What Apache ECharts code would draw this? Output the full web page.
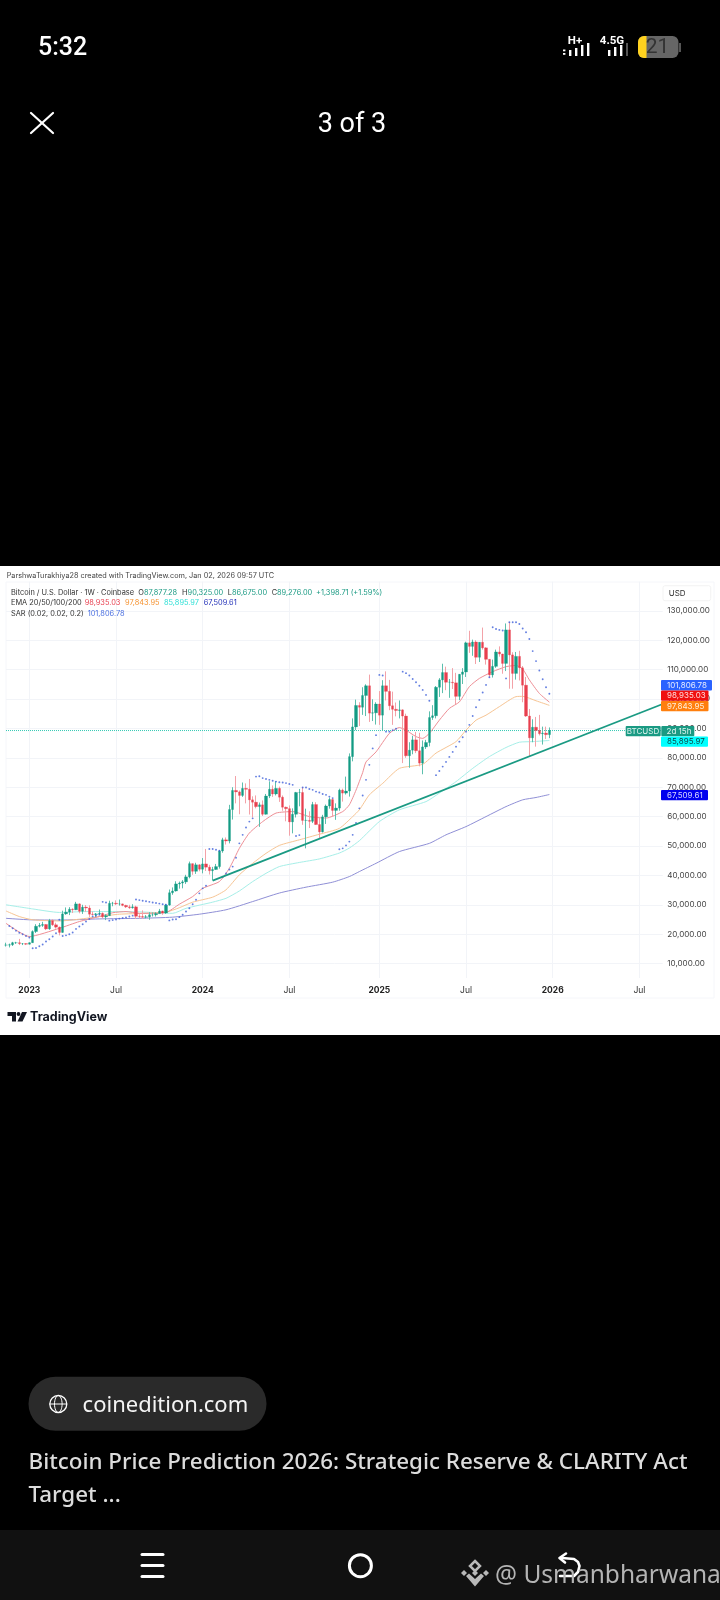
<!DOCTYPE html>
<html><head><meta charset="utf-8">
<style>html,body{margin:0;padding:0;background:#000}#c{width:720px;height:1600px}</style>
<script src="https://cdn.jsdelivr.net/npm/echarts@6/dist/echarts.min.js"></script>
</head><body><div id="c"></div>
<script>
// All prices in thousands of USD. Week numbers count from the week of 2023-01-02 = 0.
const firstWeek = -7;
const lastWeek = 190;
const tickLabels = {'2023-01-02':'2023','2023-07-03':'Jul','2024-01-01':'2024','2024-07-01':'Jul','2025-01-06':'2025','2025-07-07':'Jul','2026-01-05':'2026','2026-07-06':'Jul'};
const priceTicks = [10,20,30,40,50,60,70,80,90,100,110,120,130];

const opens = [16.3,16.3,16.4,17.1,17.1,16.8,16.8,16.6,17.1,20.9,22.7,23.0,23.3,21.8,24.6,23.2,22.4,20.6,26.9,27.5,28.5,28.3,30.3,27.8,29.2,28.9,26.8,26.7,26.9,27.1,25.9,26.3,30.5,30.5,30.3,30.3,29.8,29.3,29.0,29.3,26.1,26.0,25.8,25.9,26.6,26.6,27.0,27.9,27.2,29.9,34.1,34.7,37.1,37.4,37.8,39.5,44.0,41.4,43.6,42.1,43.9,42.8,41.6,42.0,43.0,48.3,52.1,51.7,62.4,68.9,68.4,67.2,69.6,69.3,65.7,64.9,63.4,64.0,60.8,67.0,69.3,67.7,69.6,66.6,63.2,62.7,58.2,60.8,68.2,68.2,58.7,58.7,58.4,64.1,57.3,54.8,59.9,63.6,65.8,62.1,62.9,69.0,68.0,68.7,80.4,90.5,97.8,97.2,101.2,104.5,95.2,95.3,98.3,94.5,104.5,102.6,97.7,96.5,96.1,96.3,94.2,80.7,82.6,86.1,82.4,78.2,83.7,85.2,93.7,94.3,104.0,106.5,109.0,105.7,105.7,105.5,100.9,108.4,109.2,119.1,117.9,119.4,114.2,119.3,117.4,113.5,108.2,111.1,116.0,115.3,112.1,123.5,115.0,108.7,114.5,110.6,104.7,94.2,86.8,90.4,89.3,88.2,88.4,87.88];
const closes = [16.3,16.4,17.1,17.1,16.8,16.8,16.6,17.1,20.9,22.7,23.0,23.3,21.8,24.6,23.2,22.4,20.6,26.9,27.5,28.5,28.3,30.3,27.8,29.2,28.9,26.8,26.7,26.9,27.1,25.9,26.3,30.5,30.5,30.3,30.3,29.8,29.3,29.0,29.3,26.1,26.0,25.8,25.9,26.6,26.6,27.0,27.9,27.2,29.9,34.1,34.7,37.1,37.4,37.8,39.5,44.0,41.4,43.6,42.1,43.9,42.8,41.6,42.0,43.0,48.3,52.1,51.7,62.4,68.9,68.4,67.2,69.6,69.3,65.7,64.9,63.4,64.0,60.8,67.0,69.3,67.7,69.6,66.6,63.2,62.7,58.2,60.8,68.2,68.2,58.7,58.7,58.4,64.1,57.3,54.8,59.9,63.6,65.8,62.1,62.9,69.0,68.0,68.7,80.4,90.5,97.8,97.2,101.2,104.5,95.2,95.3,98.3,94.5,104.5,102.6,97.7,96.5,96.1,96.3,94.2,80.7,82.6,86.1,82.4,78.2,83.7,85.2,93.7,94.3,104.0,106.5,109.0,105.7,105.7,105.5,100.9,108.4,109.2,119.1,117.9,119.4,114.2,119.3,117.4,113.5,108.2,111.1,116.0,115.3,112.1,123.5,115.0,108.7,114.5,110.6,104.7,94.2,86.8,90.4,89.3,88.2,88.4,87.88,89.276];
const highs = [17.1,16.8,17.4,17.4,18.4,17.0,16.9,17.2,21.3,23.4,23.8,24.2,23.4,25.2,25.1,23.9,22.6,28.0,29.1,29.2,28.8,31.0,30.5,30.0,29.9,29.8,27.7,27.2,28.4,27.4,26.8,31.4,31.0,31.5,31.8,30.4,30.0,30.0,30.2,29.7,26.8,28.1,26.5,27.5,27.4,27.5,28.6,28.0,30.3,35.2,35.9,38.0,37.9,38.4,40.2,44.7,44.0,44.3,43.8,45.9,49.0,43.6,42.9,43.9,48.6,52.8,52.9,64.0,70.0,73.8,68.9,71.6,71.3,72.8,66.9,67.2,64.8,65.5,67.7,72.0,70.6,72.0,70.2,67.2,63.4,63.8,62.8,68.4,69.4,70.0,62.7,61.8,65.0,64.9,59.8,60.6,64.1,66.5,66.1,64.5,69.5,69.5,73.6,81.5,93.4,99.8,98.9,104.0,105.0,108.3,99.9,98.9,102.7,106.4,109.4,106.5,102.5,98.8,99.5,96.5,95.0,85.3,87.5,88.8,88.5,85.9,86.1,95.8,97.9,104.4,107.1,112.0,111.0,106.8,110.5,108.9,108.5,110.5,119.5,123.2,120.2,120.0,119.3,124.3,117.6,113.5,113.4,116.8,117.9,115.4,125.7,126.2,115.9,116.0,116.4,111.2,107.5,96.6,93.1,93.9,94.6,90.6,90.6,90.325];
const lows = [15.8,15.5,16.0,16.7,16.3,16.3,16.3,16.5,17.1,20.4,22.3,22.5,21.4,21.5,22.8,21.9,19.6,20.5,26.6,26.5,27.2,28.2,27.1,26.9,27.6,25.8,26.4,25.9,26.6,25.4,24.8,26.2,29.5,29.9,29.7,29.5,28.9,28.6,28.7,25.2,25.4,25.3,25.4,24.9,26.0,26.0,27.1,26.6,26.9,29.7,33.4,34.5,35.5,35.6,37.1,39.0,40.2,40.5,41.4,40.7,41.5,40.3,38.3,41.9,42.3,47.7,50.5,50.9,59.0,64.5,60.8,66.7,64.5,60.7,59.7,62.8,56.5,60.2,60.7,66.3,66.7,67.2,65.0,62.0,58.4,53.5,54.3,59.7,63.5,57.2,49.2,56.1,57.8,57.2,52.5,54.6,57.5,62.7,59.9,58.9,62.0,65.1,67.5,66.8,78.8,89.4,90.8,94.6,94.2,92.2,92.5,91.3,91.2,89.3,99.5,96.2,91.2,94.1,93.4,78.2,80.0,76.6,81.2,81.6,77.1,74.4,83.0,83.9,92.9,93.4,100.7,102.0,103.0,100.4,103.4,98.2,99.6,105.1,107.5,115.7,114.7,111.9,112.6,116.8,111.7,107.3,107.3,110.6,114.4,108.6,109.5,103.5,103.5,106.6,106.3,98.9,93.9,80.6,85.3,83.8,87.6,84.5,86.4,86.675];

const ema20Weeks = [-7,0,9,15,21,25,29,33,41,45,49,52,57,60,63,66,70,74,79,84,89,94,96,98,100,101,104,108,111,113,116,118,120,123,126,129,132,135,139,143,146,148,150,153,156];
const ema20Values = [23.7,19.2,22,24.3,26,27.3,27.7,27.1,27.4,30.2,32.8,35.6,37.9,42.4,49.2,54.4,58.3,61.2,61.7,60,59.5,61.7,64,69,75,78.6,82,88.3,90.3,89.4,87.2,86.6,88.3,92.8,96.8,99,104.2,107,109.3,111,111.4,110.2,106.5,101.9,98.94];
const ema50Weeks = [-7,-3,1,9,15,21,27,35,41,45,49,55,59,63,67,71,75,81,87,93,97,99,102,106,111,118,122,128,131,134,137,141,146,148,152,156];
const ema50Values = [27.9,26,24.9,24.5,25.1,26,26.8,27.1,27.5,29,30.9,32.6,35.1,40.2,44.1,47.5,50.2,52.1,54,56,60,62.3,67.4,71.3,76.4,77.8,81.6,85.5,89.4,92.8,94.5,97.4,100.8,100.9,99.4,97.84];
const ema100Weeks = [-7,1,9,17,25,33,43,47,55,59,63,67,71,75,81,87,93,96,99,105,111,119,123,128,133,138,143,147,151,156];
const ema100Values = [30,28.6,27.4,27.7,27.7,27.6,27.1,28.8,30.9,32.2,34.7,37.9,40.7,43,44.4,45.6,47.6,49.3,51.8,58.3,62.3,65.1,68,71.9,76.4,80.4,83.5,85.3,85.5,85.9];
const ema200Weeks = [-7,0,9,21,33,43,51,59,67,75,83,91,96,99,104,111,120,125,131,137,143,148,152,156];
const ema200Values = [25.4,24.9,24.8,25.2,25.4,25.8,26.8,28.3,31.1,34,36,37.7,39.6,41.3,44.1,48.1,50.9,53.8,56.6,60,63.4,65.7,66.5,67.51];

const sarWeeks = [-6,-5,-4,-3,-2,-1,0,1,2,3,4,5,6,7,8,9,10,11,12,13,14,15,16,17,18,19,20,21,22,23,24,25,26,27,28,29,30,31,32,33,34,35,36,37,38,39,40,41,42,43,44,45,46,47,48,49,50,51,52,53,54,55,56,57,58,59,60,61,62,63,64,65,66,67,68,69,70,71,72,73,74,75,76,77,78,79,80,81,82,83,84,85,86,87,88,89,90,91,93,94,95,96,97,98,99,100,101,102,103,104,105,106,107,108,109,110,112,113,114,115,116,117,118,119,120,122,123,124,125,126,127,128,129,130,131,132,133,134,135,136,137,138,139,140,141,142,143,144,145,146,147,148,149,150,151,152,153,154,155,156];
const sarValues = [22.8,22,21.2,20.5,20,19.4,18.9,15.2,15.3,15.9,16.5,17.5,18.3,19.2,20.3,24.9,19.4,19.6,20,20.6,21.8,22.6,23.4,24.3,25.2,26,26.3,26.6,31,30.8,24.6,24.8,25,25.3,25.5,25.7,26,26.3,31.8,31.6,31.4,31.2,31,30.8,30.6,30.4,30.2,30,24.7,25,25.1,25.8,26.6,27.7,28.8,30.2,31.7,33.9,35.6,36.5,49,49,48.7,48.4,39.5,40.7,42,43,46,50.9,53.8,56.3,58.3,59.4,73.6,73.7,73.1,72.8,72.5,72.2,71.9,71.7,71.6,71.4,71.1,70.8,53.4,53.7,69.9,69.9,69.4,69.1,68.5,68.2,67.7,67.4,66.8,66.3,48.9,49.2,50.2,51.5,53.8,57.8,62.8,67.2,72.5,77.6,83.2,87.7,108.2,108,88.9,88.9,89.4,89.9,109.3,108.8,108,106.8,105.7,104.5,103.1,101.4,99.4,74.1,75.5,77,78.6,80.3,82,83.8,85.5,87,88.9,91.2,94.2,97.2,99.7,102.2,104.8,107.4,124.4,123.8,123.5,123.3,107,126.1,126.1,126.1,125.5,124,122.7,120.4,116.3,112.9,109.7,106.7,104,101.81];

const trendWeeks = [55,190];
const trendValues = [38.2,98.3];
const lastClose = 89.276;

// ---- build
const categories = [];
for (let w = firstWeek; w <= lastWeek; w++) {
  categories.push(new Date(Date.UTC(2023,0,2) + w*7*864e5).toISOString().slice(0,10));
}
const pos = w => w - firstWeek;
const pairs = (ws, vs) => ws.map((w,i) => [pos(w), vs[i]]);
const UI = 'Inter, "Noto Sans", sans-serif';
const CAND_FULL = opens.map((o,i)=>[o,closes[i],lows[i],highs[i]]);
const CAND_BODY = opens.map((o,i)=>[o,closes[i],Math.min(o,closes[i]),Math.max(o,closes[i])]);

const T = (x,y,text,size,fill,o={}) => ({type:'text',z:o.z||50,style:{x,y,text,fontSize:size,fontFamily:o.family||UI,fontWeight:o.weight||400,fill,align:o.align||'left',verticalAlign:'middle'}});
const R = (x,y,w,h,fill,o={}) => ({type:'rect',z:o.z||40,shape:{x,y,width:w,height:h,r:o.r||0},style:{fill,stroke:o.stroke||null,lineWidth:o.lw||0}});
const L = (pts,stroke,lw,z=60) => ({type:'polyline',z,shape:{points:pts},style:{stroke,lineWidth:lw,fill:null,lineCap:'round',lineJoin:'round'}});
const C = (cx,cy,r,stroke,lw,z=60) => ({type:'circle',z,shape:{cx,cy,r},style:{stroke,lineWidth:lw,fill:null}});
const RK = 'Roboto, sans-serif';
const NS = '"Noto Sans", sans-serif';
const G1='#1a9a83';

const bars=(x,base,hs,col,w=2.4)=>hs.map((h,i)=>R(x+i*6,base-h,w,h,col,{z:60}));

const elements = [
  R(0,566,720,469,'#ffffff',{z:-10}),
  R(0,1530,720,70,'#111111',{z:-10}),
  R(6,582,708,416,'rgba(0,0,0,0)',{z:-9,stroke:'#f5f6fa',lw:1}),
  // status bar
  T(38,48.5,'5:32',25,'#fff',{family:RK,weight:500}),
  T(575,41,'H+',11.5,'#fff',{family:RK,weight:700,align:'center'}),
  R(563,49.5,2.4,1.8,'#fff',{z:60}),R(563,53,2.4,1.8,'#fff',{z:60}),
  ...bars(569,56,[6,8,11,13],'#fff'),
  T(612,41,'4.5G',11.5,'#fff',{family:RK,weight:700,align:'center'}),
  ...bars(608,56,[6,9,11],'#fff'),
  R(626,43,2,13,'#555',{z:60}),
  R(638,36,40.5,22,'#666666',{z:60,r:6}),
  R(638,36,8.5,22,'#ffd21f',{z:61,r:[6,0,0,6]}),
  R(679,43,2,9,'#555',{z:60}),
  T(657.5,48,'21',21,'#333',{family:RK,align:'center',z:62}),
  // top bar
  L([[31,113],[53,133]],'#fff',2.2), L([[53,113],[31,133]],'#fff',2.2),
  T(352,125.5,'3 of 3',27,'#fff',{family:RK,align:'center'}),
  // chart header
  T(6.7,576,'ParshwaTurakhiya28 created with TradingView.com, Jan 02, 2026 09:57 UTC',7.3,'#444'),
  T(11,592.6,'Bitcoin / U.S. Dollar · 1W · Coinbase',7.4,'#333'),
  T(138.3,592.6,'O',7.4,'#333'),T(144,592.6,'87,877.28',7.4,G1),
  T(182,592.6,'H',7.4,'#333'),T(187.6,592.6,'90,325.00',7.4,G1),
  T(227.7,592.6,'L',7.4,'#333'),T(232,592.6,'86,675.00',7.4,G1),
  T(271.7,592.6,'C',7.4,'#333'),T(277,592.6,'89,276.00',7.4,G1),
  T(316,592.6,'+1,398.71 (+1.59%)',7.4,G1),
  T(11,603,'EMA 20/50/100/200',7.4,'#333'),
  T(84.7,603,'98,935.03',7.4,'#e8404f'),
  T(125,603,'97,843.95',7.4,'#f59331'),
  T(164,603,'85,895.97',7.4,'#2fe0d6'),
  T(203.7,603,'67,509.61',7.4,'#2230b8'),
  T(11,613.6,'SAR (0.02, 0.02, 0.2)',7.4,'#333'),
  T(87.7,613.6,'101,806.78',7.4,'#4a6fe0'),
  // currency box
  R(663,585.7,47.7,15,'#fff',{stroke:'#eeeeee',lw:.7,r:2,z:30}),
  T(668.7,593.3,'USD',8,'#333'),
  // right-hand price tags
  R(661,680,51,10.5,'#2962ff',{r:1}), T(667,685.6,'101,806.78',8,'#e6ecff',{z:51}),
  R(661,690.5,47.5,10.3,'#f01010',{r:1}), T(667,696,'98,935.03',8,'#ffe0e0',{z:51}),
  R(661,701,47.5,10.3,'#ff7f0e',{r:1}), T(667,706.5,'97,843.95',8,'#fff0e0',{z:51}),
  R(625.7,726,35,10.3,G1,{r:1}), T(643,731.5,'BTCUSD',8,'#e0f5f0',{align:'center',z:51}),
  R(661.3,726,33,10.3,G1,{r:1}), T(666.5,731.5,'2d 15h',8,'#e0f5f0',{z:51}),
  R(661,736.5,47,10.3,'#00ffff',{r:1}), T(667,742,'85,895.97',8,'#0c4a4a',{z:51}),
  R(661,790,47,10.3,'#0000ee',{r:1}), T(667,795.5,'67,509.61',8,'#d8d8ff',{z:51}),
  // TradingView logo
  {type:'polygon',z:60,shape:{points:[[7.5,1012],[16,1012],[16,1021.5],[12,1021.5],[12,1016],[7.5,1016]]},style:{fill:'#131722'}},
  {type:'circle',z:60,shape:{cx:18.5,cy:1014,r:1.9},style:{fill:'#131722'}},
  {type:'polygon',z:60,shape:{points:[[22,1012],[27,1012],[22.5,1021.5],[17.5,1021.5]]},style:{fill:'#131722'}},
  T(30,1017,'TradingView',12.5,'#131722',{weight:700}),
  // lower text
  R(28.5,1376.7,238,54,'#2a2a2a',{z:20,r:27}),
  C(58.3,1404,8.5,'#fff',1.3),
  L([[50,1404],[66.5,1404]],'#fff',1),
  {type:'ellipse',z:60,shape:{cx:58.3,cy:1404,rx:3.8,ry:8.5},style:{stroke:'#fff',lineWidth:1,fill:null}},
  T(82.6,1405.5,'coinedition.com',22,'#f4f4f4',{family:NS}),
  T(28.5,1463,'Bitcoin Price Prediction 2026: Strategic Reserve & CLARITY Act',22.4,'#dcdcdc',{family:NS,weight:500}),
  T(28.5,1496,'Target ...',22.4,'#dcdcdc',{family:NS,weight:500}),
  // nav bar
  L([[142,1554.5],[163,1554.5]],'#fff',3),L([[142,1565.5],[163,1565.5]],'#fff',3),L([[142,1576.5],[163,1576.5]],'#fff',3),
  {type:'ellipse',z:60,shape:{cx:360.4,cy:1565.7,rx:11,ry:11},style:{stroke:'#fff',lineWidth:3,fill:null}},
  L([[562,1558],[574,1559],[578,1562],[579.5,1566],[578,1572],[574,1576],[560,1576]],'#fff',2.6),
  L([[566,1553.5],[559.5,1558],[565,1562.5]],'#fff',2.6),
  {type:'polygon',z:70,shape:{points:[[475,1561],[480,1566],[475,1571],[470,1566]]},style:{fill:null,stroke:'#b9b9b9',lineWidth:2.5}},
  {type:'polygon',z:70,shape:{points:[[464,1570],[467,1573],[464,1576],[461,1573]]},style:{fill:'#b9b9b9'}},
  {type:'polygon',z:70,shape:{points:[[486,1570],[489,1573],[486,1576],[483,1573]]},style:{fill:'#b9b9b9'}},
  {type:'polygon',z:70,shape:{points:[[475,1570],[478,1573],[475,1576],[472,1573]]},style:{fill:'#b9b9b9'}},
  {type:'polygon',z:70,shape:{points:[[475,1579],[481,1573.5],[484,1576],[475,1586.5],[466,1576],[469,1573.5]]},style:{fill:'#b9b9b9'}},
  T(495,1576,'@ Usmanbharwana',24.5,'#b4b4b4',{family:NS,z:70})
];

const option = {
  animation:false,
  backgroundColor:'#000',
  grid:{left:6,top:581.7,width:656.7,height:396.3,containLabel:false},
  xAxis:{type:'category',data:categories,boundaryGap:false,
    axisLine:{show:false},axisTick:{show:false},
    axisLabel:{interval:(i,v)=>v in tickLabels,margin:8,fontFamily:UI,fontSize:8.5,color:'#333',hideOverlap:false,
      formatter:v=>{const t=tickLabels[v]||'';return t==='Jul'?t:'{b|'+t+'}';},
      rich:{b:{fontWeight:700,fontFamily:UI,fontSize:8.5,color:'#222'}}},
    splitLine:{show:true,interval:(i,v)=>v in tickLabels,lineStyle:{color:'#f2f4f8',width:1}}},
  yAxis:{type:'value',position:'right',min:5.1,max:139.9,scale:true,
    axisLine:{show:false},
    axisTick:{show:false,customValues:priceTicks},
    axisLabel:{customValues:priceTicks,margin:4.5,fontFamily:UI,fontSize:8.1,color:'#444',padding:[2,0,0,0],
      formatter:v=>(v*1000).toLocaleString('en-US',{minimumFractionDigits:2})},
    splitLine:{show:true,lineStyle:{color:'#f2f4f8',width:1}}},
  graphic:{elements},
  series:[
    {name:'Last price',type:'line',data:pairs([firstWeek,lastWeek],[lastClose,lastClose]),symbol:'none',silent:true,z:1,
      lineStyle:{type:'dotted',color:'#35c9b4',width:1}},
    {name:'EMA 200',type:'line',data:pairs(ema200Weeks,ema200Values),symbol:'none',smooth:.2,z:2,lineStyle:{color:'#8f8fd6',width:1}},
    {name:'EMA 100',type:'line',data:pairs(ema100Weeks,ema100Values),symbol:'none',smooth:.2,z:2,lineStyle:{color:'#a6efe8',width:1}},
    {name:'EMA 50',type:'line',data:pairs(ema50Weeks,ema50Values),symbol:'none',smooth:.2,z:2,lineStyle:{color:'#f7c594',width:1}},
    {name:'EMA 20',type:'line',data:pairs(ema20Weeks,ema20Values),symbol:'none',smooth:.2,z:2,lineStyle:{color:'#ee8f96',width:1}},
    {name:'Wicks',type:'candlestick',data:CAND_FULL,barWidth:1,z:3,
      itemStyle:{color:'#5cbfad',color0:'#f3a2a8',borderColor:'#5cbfad',borderColor0:'#f3a2a8',borderWidth:1}},
    {name:'Bitcoin',type:'candlestick',data:CAND_BODY,barWidth:2.7,z:4,
      itemStyle:{color:'#129b83',color0:'#e83f4e',borderColor:'#129b83',borderColor0:'#e83f4e',borderWidth:.3}},
    {name:'SAR',type:'scatter',data:pairs(sarWeeks,sarValues),symbol:'circle',symbolSize:1.9,z:5,itemStyle:{color:'#3d5fd9'}},
    {name:'Trend',type:'line',data:pairs(trendWeeks,trendValues),symbol:'none',z:6,lineStyle:{color:'#1a9a83',width:1.8}}
  ]
};
const chart = echarts.init(document.getElementById('c'),null,{renderer:'canvas',width:720,height:1600,devicePixelRatio:1});
chart.setOption(option);
</script></body></html>
